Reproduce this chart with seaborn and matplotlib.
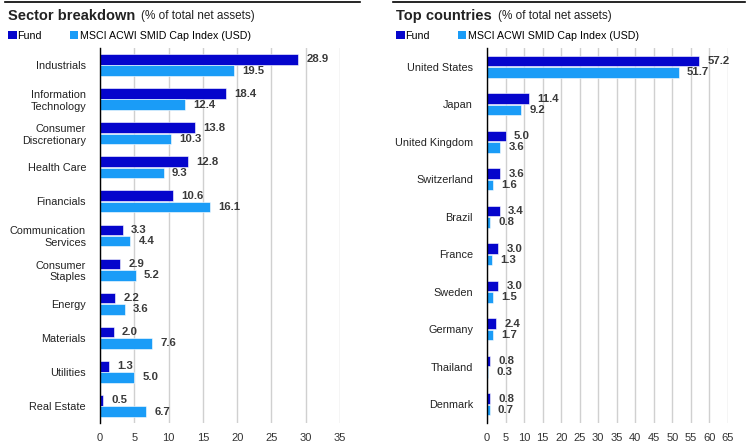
import pandas as pd
import matplotlib.pyplot as plt
import seaborn as sns
from matplotlib.lines import Line2D
from matplotlib.patches import Patch

# Sector data
sectors = ['Industrials', 'Information\nTechnology', 'Consumer\nDiscretionary', 'Health Care',
           'Financials', 'Communication\nServices', 'Consumer\nStaples', 'Energy',
           'Materials', 'Utilities', 'Real Estate']
sector_fund = [28.9, 18.4, 13.8, 12.8, 10.6, 3.3, 2.9, 2.2, 2.0, 1.3, 0.5]
sector_index = [19.5, 12.4, 10.3, 9.3, 16.1, 4.4, 5.2, 3.6, 7.6, 5.0, 6.7]

# Country data
countries = ['United States', 'Japan', 'United Kingdom', 'Switzerland', 'Brazil',
             'France', 'Sweden', 'Germany', 'Thailand', 'Denmark']
country_fund = [57.2, 11.4, 5.0, 3.6, 3.4, 3.0, 3.0, 2.4, 0.8, 0.8]
country_index = [51.7, 9.2, 3.6, 1.6, 0.8, 1.3, 1.5, 1.7, 0.3, 0.7]

series_names = ['Fund', 'MSCI ACWI SMID Cap Index (USD)']
colors = ['#0505CC', '#1A9CF7']

plt.rcParams['font.family'] = ['Liberation Sans', 'DejaVu Sans']

W, H = 749, 447
fig = plt.figure(figsize=(W / 100, H / 100), dpi=100)


def to_long(cats, fund, index):
    return pd.DataFrame({
        'cat': cats * 2,
        'value': fund + index,
        'series': [series_names[0]] * len(cats) + [series_names[1]] * len(cats),
    })


def draw_panel(rect, df, xmax, step, width, gap):
    ax = fig.add_axes(rect)
    sns.barplot(data=df, y='cat', x='value', hue='series', orient='h',
                palette=colors, saturation=1, width=width, gap=gap, ax=ax, legend=False,
                edgecolor='white', linewidth=0.4)
    ax.set_xlim(0, xmax)
    ax.set_xticks(range(0, xmax + 1, step))
    ax.set_xlabel('')
    ax.set_ylabel('')
    ax.grid(axis='x', color='#d0d0d0', linewidth=1)
    ax.set_axisbelow(True)
    for s in ['top', 'right', 'bottom']:
        ax.spines[s].set_visible(False)
    ax.spines['left'].set_color('black')
    ax.spines['left'].set_linewidth(1)
    ax.tick_params(length=0, labelsize=7.8, colors='#222222')
    ax.tick_params(axis='y', pad=10)
    ax.tick_params(axis='x', pad=7, labelsize=8, labelcolor='#333333')
    for c in ax.containers:
        ax.bar_label(c, fmt='%.1f', padding=6, fontsize=8.2, fontweight='bold', color='#3a3a3a')
    return ax


bottom = 1 - 423 / H
height = (423 - 48) / H
ax1 = draw_panel([100 / W, bottom, 240 / W, height],
                 to_long(sectors, sector_fund, sector_index), 35, 5, 0.66, 0.05)
ax2 = draw_panel([487 / W, bottom, 241 / W, height],
                 to_long(countries, country_fund, country_index), 65, 5, 0.6, 0.05)

# Headers
for x0, x1, title in [(5, 360, 'Sector breakdown'), (393, 745, 'Top countries')]:
    fig.add_artist(Line2D([x0 / W, x1 / W], [1 - 2 / H, 1 - 2 / H], color='black', linewidth=1.2))
    t = fig.text((x0 + 3) / W, 1 - 16 / H, title, fontsize=10.5, fontweight='bold',
                 color='#222222', va='center')
    fig.canvas.draw()
    bb = t.get_window_extent()
    fig.text((bb.x1 + 6) / W, 1 - 16 / H, '(% of total net assets)', fontsize=8.5,
             color='#222222', va='center')
    handles = [Patch(facecolor=c, edgecolor='none') for c in colors]
    fig.legend(handles, series_names, loc='center left',
               bbox_to_anchor=((x0 + 3) / W, 1 - 36 / H), ncol=2, frameon=False,
               fontsize=7.7, handlelength=0.8, handleheight=0.8, handletextpad=0.1,
               columnspacing=2.6, borderaxespad=0, borderpad=0)

fig.savefig('out.png', dpi=100)
